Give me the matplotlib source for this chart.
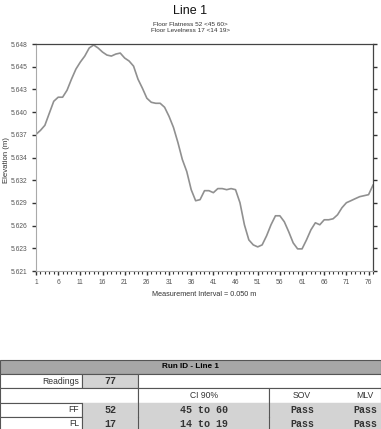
import matplotlib
matplotlib.use("Agg")
import matplotlib.pyplot as plt
from matplotlib.patches import Rectangle
from matplotlib.ticker import MultipleLocator, FixedLocator, FormatStrFormatter
import numpy as np

plt.rcParams['font.family'] = ['Liberation Sans', 'DejaVu Sans']

# elevation readings (m), one per measurement interval
elevation = [
    5.63710, 5.63758, 5.63819, 5.63964, 5.64108, 5.64157, 5.64157, 5.64241, 5.64374, 5.64495,
    5.64580, 5.64652, 5.64749, 5.64785, 5.64749, 5.64700, 5.64664, 5.64652, 5.64676, 5.64688,
    5.64628, 5.64592, 5.64531, 5.64374, 5.64265, 5.64145, 5.64096, 5.64084, 5.64084, 5.64036,
    5.63927, 5.63794, 5.63613, 5.63408, 5.63263, 5.63045, 5.62912, 5.62925, 5.63033, 5.63033,
    5.63009, 5.63058, 5.63058, 5.63045, 5.63058, 5.63045, 5.62888, 5.62623, 5.62441, 5.62381,
    5.62357, 5.62381, 5.62490, 5.62623, 5.62731, 5.62731, 5.62659, 5.62538, 5.62405, 5.62333,
    5.62333, 5.62441, 5.62562, 5.62647, 5.62623, 5.62683, 5.62683, 5.62695, 5.62743, 5.62828,
    5.62888, 5.62912, 5.62937, 5.62961, 5.62973, 5.62985, 5.63100,
]
readings = np.arange(1, len(elevation) + 1)
y_min, y_max = 5.62067, 5.64797
x_major = list(range(1, 77, 5))

title = "Line 1"
subtitle = ["Floor Flatness 52 <45 60>", "Floor Levelness 17 <14 19>"]

# summary table
table_title = "Run ID - Line 1"
n_readings = "77"
stat_names = ["FF", "FL"]
stat_values = ["52", "17"]
ci_ranges = ["45 to 60", "14 to 19"]
sov = ["Pass", "Pass"]
mlv = ["Pass", "Pass"]

W, H = 381, 429
fig = plt.figure(figsize=(W / 100, H / 100), dpi=100)

# ---- chart ----
ax = fig.add_axes([36 / W, 1 - 271 / H, 337 / W, 227 / H])
ax.plot(readings, elevation, color='#909090', lw=1.2)
ax.set_xlim(1, 77)
ax.set_ylim(y_min, y_max)
ax.yaxis.set_major_locator(FixedLocator(np.linspace(y_min, y_max, 11)))
ax.yaxis.set_major_formatter(FormatStrFormatter('%.3f'))
ax.xaxis.set_major_locator(FixedLocator(x_major))
ax.xaxis.set_minor_locator(MultipleLocator(1))
ax.tick_params(axis='both', which='major', labelsize=4.8, labelcolor='#555555',
               direction='out', length=3, width=1, color='#333333', pad=3)
ax.tick_params(axis='x', which='minor', direction='out', length=2.5, width=0.8, color='#333333')
ax.tick_params(axis='y', which='major', right=True, labelright=False)
for s in ['left', 'bottom']:
    ax.spines[s].set_color('#aaaaaa')
    ax.spines[s].set_linewidth(0.8)
for s in ['top', 'right']:
    ax.spines[s].set_color('#444444')
    ax.spines[s].set_linewidth(0.9)
ax.set_xlabel("Measurement Interval = 0.050 m", fontsize=5.2, color='#333333', labelpad=3)
ax.set_ylabel("Elevation (m)", fontsize=5.6, color='#333333', labelpad=1)
ax.yaxis.set_label_coords(-0.078, 0.49)

fig.text(0.5, 1 - 11 / H, title, ha='center', va='center', fontsize=9, color='#111111')
fig.text(0.5, 1 - 24 / H, subtitle[0], ha='center', va='center', fontsize=4.6, color='#333333')
fig.text(0.5, 1 - 31 / H, subtitle[1], ha='center', va='center', fontsize=4.6, color='#333333')

# ---- table ----
tx = fig.add_axes([0, 0, 1, 69 / H])
tx.set_xlim(0, W)
tx.set_ylim(429, 360)
tx.axis('off')

rows = [360, 374, 388, 403, 417, 431]
c0, c1, c2, c3 = 82, 138, 269, W
dark = '#a7a7a7'
light = '#d3d3d3'
edge = '#555555'


def cell(x0, x1, r, fc):
    tx.add_patch(Rectangle((x0, rows[r]), x1 - x0, rows[r + 1] - rows[r],
                           facecolor=fc, edgecolor=edge, lw=0.8, clip_on=False))


def mid(r):
    return (rows[r] + rows[r + 1]) / 2


cell(0, c3, 0, dark)
tx.text(W / 2, mid(0), table_title, ha='center', va='center', fontsize=5.9, weight='bold')

cell(0, c0, 1, 'white')
cell(c0, c1, 1, light)
cell(c1, c3, 1, 'white')
tx.text(c0 - 3, mid(1), "Readings", ha='right', va='center', fontsize=6.2, color='#333333')
tx.text((c0 + c1) / 2, mid(1), n_readings, ha='center', va='center', fontsize=7.2,
        family='Liberation Mono', weight='bold', color='#333333')

cell(0, c1, 2, 'white')
cell(c1, c2, 2, 'white')
cell(c2, c3, 2, 'white')
tx.text((c1 + c2) / 2, mid(2), "CI 90%", ha='center', va='center', fontsize=6.2, color='#333333')
tx.text(302, mid(2), "SOV", ha='center', va='center', fontsize=6.2, color='#333333')
tx.text(365, mid(2), "MLV", ha='center', va='center', fontsize=6.2, color='#333333')

for k in range(len(stat_names)):
    r = 3 + k
    cell(0, c0, r, 'white')
    tx.add_patch(Rectangle((c0, rows[r]), c3 - c0, rows[r + 1] - rows[r],
                           facecolor=light, edgecolor='none', clip_on=False))
    tx.plot([c0, c0], [rows[r], rows[r + 1]], color=edge, lw=0.8, clip_on=False)
    tx.plot([c1, c1], [rows[r], rows[r + 1]], color=edge, lw=0.8, clip_on=False)
    tx.plot([c2, c2], [rows[r], rows[r + 1]], color=edge, lw=0.8, clip_on=False)
    tx.text(c0 - 3, mid(r), stat_names[k], ha='right', va='center', fontsize=6.2, color='#333333')
    mono = dict(ha='center', va='center', fontsize=7.2, family='Liberation Mono',
                weight='bold', color='#333333')
    tx.text((c0 + c1) / 2, mid(r), stat_values[k], **mono)
    tx.text((c1 + c2) / 2, mid(r), ci_ranges[k], **mono)
    tx.text(302, mid(r), sov[k], **mono)
    tx.text(365, mid(r), mlv[k], **mono)

fig.savefig("out.png", dpi=100)
